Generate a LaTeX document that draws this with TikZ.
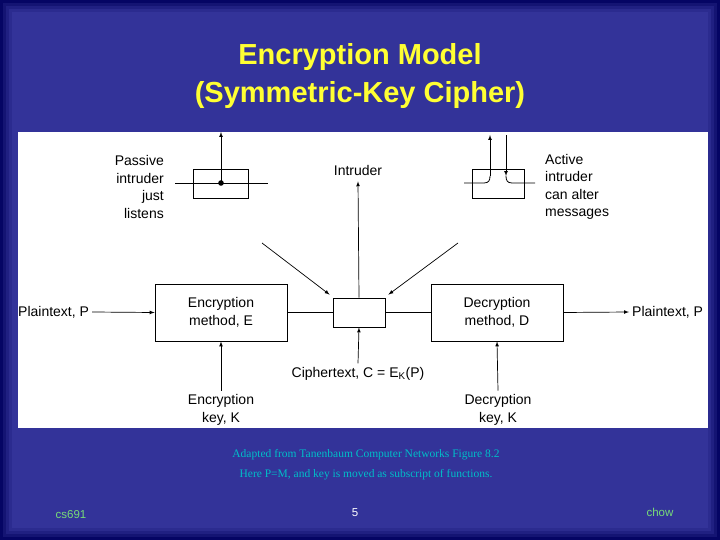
\documentclass[tikz,border=0pt]{standalone}
\usepackage{fontspec}
\setmainfont{Liberation Sans}
\newfontfamily\serifx{Liberation Serif}
\definecolor{bg0}{RGB}{5,5,100}
\definecolor{bg1}{RGB}{20,20,115}
\definecolor{bg2}{RGB}{32,32,130}
\definecolor{bg3}{RGB}{43,43,143}
\definecolor{bg4}{RGB}{51,51,153}
\begin{document}
\begin{tikzpicture}[x=1pt,y=-1pt,
  lbl/.style={font=\fontsize{14}{17.5}\selectfont,inner sep=0pt},
  bx/.style={draw,line width=0.8pt,inner sep=0pt},
  arr/.style={-latex,line width=0.7pt},
  ln/.style={line width=0.8pt}]
\useasboundingbox (0,0) rectangle (720,540);
\fill[bg0] (0,0) rectangle (720,540);
\foreach \i/\c in {3/bg1,6/bg2,9/bg3,12/bg4}{
  \fill[\c] (\i,\i) rectangle (720-\i,540-\i);}
\node[text={rgb,255:red,255;green,255;blue,51},font=\bfseries\fontsize{29}{38}\selectfont,align=center] (title) at (360,76) {Encryption Model\\(Symmetric-Key Cipher)};
\fill[white] (18,132) rectangle (708,428);
% boxes
\node[bx,minimum width=132,minimum height=57,lbl,align=center] (E) at (221,312.5) {Encryption\\method, E};
\node[bx,minimum width=132,minimum height=57,lbl,align=center] (D) at (497,312.5) {Decryption\\method, D};
\node[bx,minimum width=52,minimum height=29] (C) at (359,312.5) {};
\node[bx,minimum width=55,minimum height=29] (pb) at (221,183.5) {};
\node[bx,minimum width=52,minimum height=29] (ab) at (498,183.5) {};
% texts
\node[lbl,anchor=west] (pl) at (18,312) {Plaintext, P};
\node[lbl,anchor=west] (pr) at (632,312) {Plaintext, P};
\node[lbl,align=center] (ek) at (221,410) {Encryption\\key, K};
\node[lbl,align=center] (dk) at (498,410) {Decryption\\key, K};
\node[lbl] (ct) at (358,374) {Ciphertext, C = E$_{\mathrm{K}}$(P)};
\node[lbl] (intr) at (358,170) {Intruder};
\node[lbl,align=right,anchor=east] (pt) at (164,187) {Passive\\intruder\\just\\listens};
\node[lbl,align=left,anchor=west] (at) at (545,187) {Active\\intruder\\can alter\\messages};
% connectors
\draw[arr] ([xshift=3pt]pl.east) -- (E.west);
\draw[arr] (D.east) -- ([xshift=-3pt]pr.west);
\draw[ln] (E.east) -- (C.west);
\draw[ln] (C.east) -- (D.west);
\draw[arr] ([yshift=4pt]ek.north) -- (E.south);
\draw[arr] ([yshift=4pt]dk.north) -- (D.south);
\draw[arr] ([yshift=4pt]ct.north) -- (C.south);
\draw[arr] (C.north) -- ([yshift=-6pt]intr.south);
\coordinate (d1) at (262,243); \coordinate (d2) at (458,243);
\draw[arr] (d1) -- ([xshift=-3pt,yshift=3pt]C.north west);
\draw[arr] (d2) -- ([xshift=3pt,yshift=3pt]C.north east);
% passive tap
\draw[ln] (175,183) -- (268,183);
\fill (221,183) circle (2.8);
\coordinate (pt1) at (221,132);
\draw[arr] (221,183) -- (pt1);
% active
\draw[ln] (464,183) -- (484,183) .. controls (489,183) and (490,180) .. (490,176);
\draw[arr] (490,176) -- (490,135);
\draw[ln] (535,183) -- (512,183) .. controls (507,183) and (506,180) .. (506,176);
\draw[line width=0.7pt,latex-] (506,176) -- (506,135);
% footer
\node[text={rgb,255:red,0;green,190;blue,200},font=\serifx\fontsize{11.5}{20}\selectfont,align=center] (foot) at (366,465) {Adapted from Tanenbaum Computer Networks Figure 8.2\\Here P=M, and key is moved as subscript of functions.};
\node[text={rgb,255:red,120;green,220;blue,120},font=\fontsize{11.5}{13}\selectfont] (cs) at (71,515) {cs691};
\node[text=white,font=\fontsize{11.5}{13}\selectfont] (pg) at (355,513) {5};
\node[text={rgb,255:red,120;green,220;blue,120},font=\fontsize{11.5}{13}\selectfont] (ch) at (660,512) {chow};
\end{tikzpicture}
\end{document}
